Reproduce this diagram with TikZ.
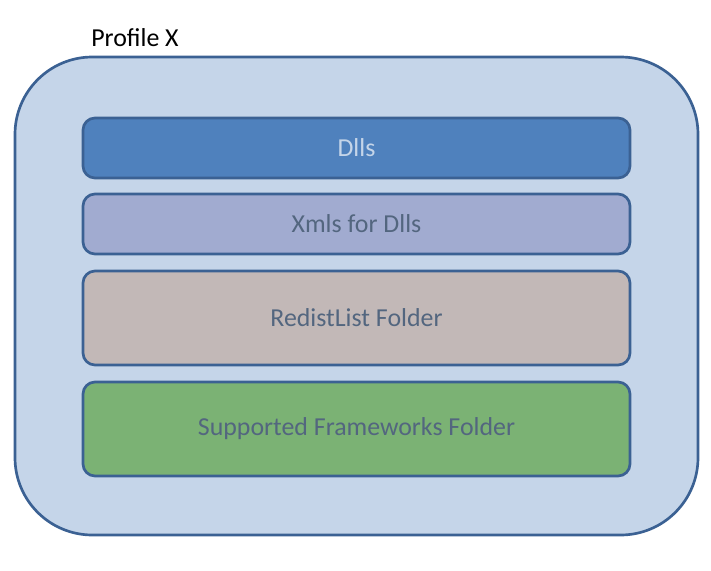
\documentclass[tikz,border=0pt]{standalone}
\usepackage{fontspec}
\setmainfont{Carlito}
\usepackage{tikz}
\usetikzlibrary{positioning}
\definecolor{profilefill}{HTML}{C5D5E9}
\definecolor{profileline}{HTML}{3B6193}
\definecolor{dllfill}{HTML}{4F81BD}
\definecolor{xmlfill}{HTML}{A1ABD0}
\definecolor{redistfill}{HTML}{C2B8B7}
\definecolor{fwfill}{HTML}{7BB274}
\definecolor{labeltext}{HTML}{53667F}

\tikzset{
  layer/.style={draw=profileline, line width=2pt, rounded corners=9,
    minimum width=547*0.75pt, text=labeltext, font=\fontsize{19.4}{22}\selectfont},
}

\begin{document}
\begin{tikzpicture}[x=0.75pt,y=-0.75pt]
            \useasboundingbox (0,0) rectangle (711,571);
            \filldraw[fill=profilefill, draw=profileline, line width=2pt, rounded corners=58pt] (15,57) rectangle (698,535);
            \node[font=\fontsize{19.4}{22}\selectfont] (title) at (135,38) {Profile X};
            \node[layer, fill=dllfill, text=profilefill, minimum height=60*0.75pt] (dlls) at (356.5,148) {Dlls};
            \node[layer, fill=xmlfill, minimum height=60*0.75pt] (xmls) at (356.5,224) {Xmls for Dlls};
            \node[layer, fill=redistfill, minimum height=94*0.75pt] (redist) at (356.5,318) {RedistList Folder};
            \node[layer, fill=fwfill, minimum height=94*0.75pt] (frameworks) at (356.5,429) {Supported Frameworks Folder};
        \end{tikzpicture}
\end{document}
